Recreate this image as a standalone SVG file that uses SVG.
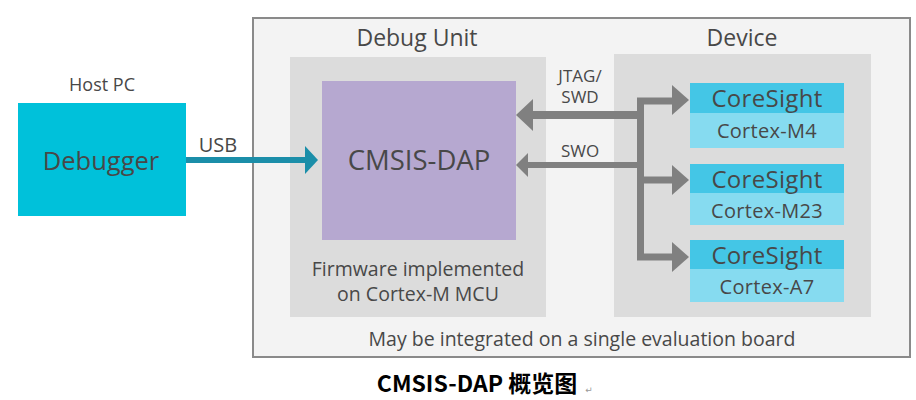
<svg xmlns="http://www.w3.org/2000/svg" width="916" height="400" viewBox="0 0 916 400">
<style>
text{font-family:"Open Sans",Lato,"Noto Sans",sans-serif;fill:#484848;text-anchor:middle}
.big{font-size:25.5px}
.hd{font-size:23px}
.md{font-size:19.5px}
.cx{font-size:20px;letter-spacing:0.3px}
.sm{font-size:17px}
.cs{font-size:24px;letter-spacing:0.3px}
.gray{fill:#808080}
.gl{stroke:#808080;fill:none}
</style>
<rect width="916" height="400" fill="#ffffff"/>
<g id="board">
<rect x="253" y="18" width="657" height="339" fill="#f3f3f3" stroke="#8a8a8a" stroke-width="2"/>
<text class="md" x="582" y="346">May be integrated on a single evaluation board</text>
</g>
<g id="host">
<text x="102" y="91" style="font-size:18px">Host PC</text>
<rect x="18" y="103" width="168" height="113" fill="#00c1da"/>
<text class="big" x="101" y="170">Debugger</text>
</g>
<g id="debug-unit">
<text class="hd" x="417" y="46">Debug Unit</text>
<rect x="290" y="57" width="256" height="260" fill="#dcdcdc"/>
<text class="md" x="418" y="276">Firmware implemented</text>
<text class="md" x="418" y="301">on Cortex-M MCU</text>
</g>
<g id="cmsis-dap">
<rect x="322" y="81" width="194" height="159" fill="#b6a8d0"/>
<text x="419" y="170" style="font-size:27.5px">CMSIS-DAP</text>
</g>
<g id="device">
<text class="hd" x="742" y="46">Device</text>
<rect x="614" y="54" width="257" height="263" fill="#dcdcdc"/>
</g>
<g id="cs-m4">
<rect x="690" y="83" width="154" height="30" fill="#44c6e6"/>
<rect x="690" y="113" width="154" height="35" fill="#86dbf0"/>
<text class="cs" x="767" y="107">CoreSight</text>
<text class="cx" x="767" y="138">Cortex-M4</text>
</g>
<g id="cs-m23">
<rect x="690" y="164" width="154" height="29" fill="#44c6e6"/>
<rect x="690" y="193" width="154" height="32" fill="#86dbf0"/>
<text class="cs" x="767" y="188">CoreSight</text>
<text class="cx" x="767" y="218">Cortex-M23</text>
</g>
<g id="cs-a7">
<rect x="690" y="240" width="154" height="29" fill="#44c6e6"/>
<rect x="690" y="269" width="154" height="33" fill="#86dbf0"/>
<text class="cs" x="767" y="264">CoreSight</text>
<text class="cx" x="767" y="294">Cortex-A7</text>
</g>
<g id="connectors">
<line x1="186" y1="160" x2="307" y2="160" stroke="#1b8ea9" stroke-width="6"/>
<polygon points="318,160 305,146 305,174" fill="#1b8ea9"/>
<text x="218" y="152" style="font-size:20px">USB</text>
<line x1="644" y1="115" x2="530" y2="115" class="gl" stroke-width="8"/>
<polygon points="516,115 533,99 533,131" class="gray"/>
<line x1="644" y1="165" x2="525" y2="165" class="gl" stroke-width="6"/>
<polygon points="516,165 528,153 528,177" class="gray"/>
<path d="M675 101 H640.5 V257 H675 M640 180 H675" class="gl" stroke-width="7"/>
<polygon points="689,100 672,85 672,115" class="gray"/>
<polygon points="689,180 672,165 672,195" class="gray"/>
<polygon points="689,257 672,242 672,272" class="gray"/>
<text class="sm" x="580" y="82">JTAG/</text>
<text class="sm" x="580" y="103">SWD</text>
<text class="sm" x="580" y="157">SWO</text>
</g>
<g id="caption">
<text x="477" y="392" style="font-family:'Noto Sans CJK SC','Noto Sans',sans-serif;font-size:23px;font-weight:bold;fill:#000">CMSIS-DAP 概览图</text>
<text x="589" y="393" style="font-family:'DejaVu Sans',sans-serif;font-size:9px;fill:#999">↵</text>
</g>
</svg>
